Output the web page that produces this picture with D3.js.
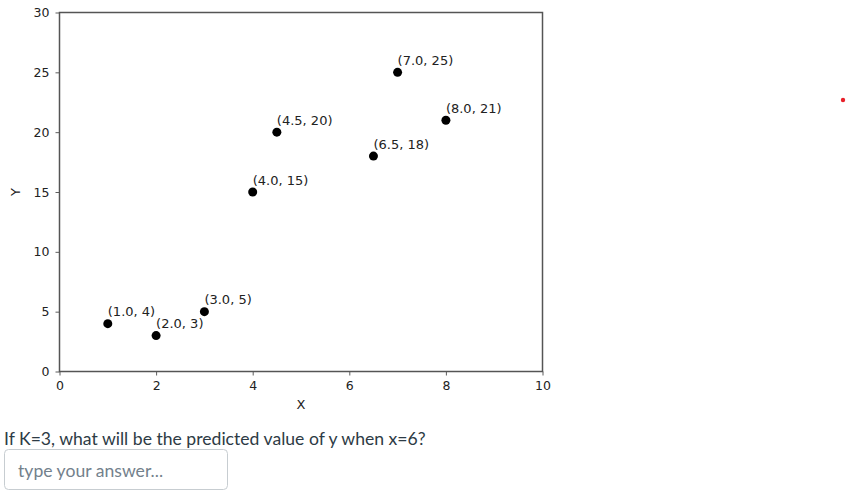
<!DOCTYPE html>
<html><head><meta charset="utf-8">
<script src="https://cdn.jsdelivr.net/npm/d3@7"></script>
<style>
body{margin:0;background:#fff;}
</style></head>
<body>
<svg id="c" width="848" height="503"></svg>
<script>
const xs = [1.0, 2.0, 3.0, 4.0, 4.5, 6.5, 7.0, 8.0];
const ys = [4, 3, 5, 15, 20, 18, 25, 21];
const labels = ["(1.0, 4)","(2.0, 3)","(3.0, 5)","(4.0, 15)","(4.5, 20)","(6.5, 18)","(7.0, 25)","(8.0, 21)"];
const xTicks = [0,2,4,6,8,10];
const yTicks = [0,5,10,15,20,25,30];
const question = "If K=3, what will be the predicted value of y when x=6?";
const placeholder = "type your answer...";

const svg = d3.select("#c");
const F = "'DejaVu Sans', sans-serif";
const L=59.5, R=542.5, T=12.5, B=371.5;
const x = d3.scaleLinear().domain([0,10]).range([L,R]);
const y = d3.scaleLinear().domain([0,30]).range([B,T]);

const ax = svg.append("g").attr("transform",`translate(0,${B})`)
  .call(d3.axisBottom(x).tickValues(xTicks).tickSize(4).tickPadding(5.5).tickFormat(d3.format("d")));
const ay = svg.append("g").attr("transform",`translate(${L},0)`)
  .call(d3.axisLeft(y).tickValues(yTicks).tickSize(4).tickPadding(6).tickFormat(d3.format("d")));
[ax,ay].forEach(g=>{
  g.attr("font-family",null).attr("font-size",null);
  g.select(".domain").remove();
  g.selectAll("line").attr("stroke","#333").attr("stroke-width",0.8);
  g.selectAll("text").style("font-family",F).style("font-size","12.5px").attr("fill","#222");
});
svg.append("rect").attr("x",L).attr("y",T).attr("width",R-L).attr("height",B-T)
  .attr("fill","none").attr("stroke","#555").attr("stroke-width",1.5);

svg.append("text").attr("x",(L+R)/2).attr("y",409).attr("text-anchor","middle")
  .style("font-family",F).style("font-size","13px").attr("fill","#222").text("X");
svg.append("text").attr("transform",`translate(20,${(T+B)/2}) rotate(-90)`).attr("text-anchor","middle")
  .style("font-family",F).style("font-size","13px").attr("fill","#222").text("Y");

const pts = xs.map((v,i)=>({x:v,y:ys[i],l:labels[i]}));
svg.selectAll("circle.p").data(pts).enter().append("circle").attr("class","p")
  .attr("cx",d=>x(d.x)).attr("cy",d=>y(d.y)).attr("r",4.5).attr("fill","#000");
svg.selectAll("text.l").data(pts).enter().append("text").attr("class","l")
  .attr("x",d=>x(d.x)).attr("y",d=>y(d.y)-7.5)
  .style("font-family",F).style("font-size","13px").attr("fill","#222").text(d=>d.l);

svg.append("circle").attr("cx",843).attr("cy",100).attr("r",2.2).attr("fill","#e8202a");

svg.append("text").attr("x",4).attr("y",445).style("font-family","Lato").style("font-size","17.6px")
  .attr("fill","#2d3b45").text(question);
svg.append("rect").attr("x",4.5).attr("y",449.5).attr("width",223).attr("height",40).attr("rx",4)
  .attr("fill","#fff").attr("stroke","#c7cdd1").attr("stroke-width",1);
svg.append("text").attr("x",18).attr("y",476.5).style("font-family","Lato").style("font-size","17.6px")
  .attr("fill","#73818c").text(placeholder);
</script>
</body></html>
